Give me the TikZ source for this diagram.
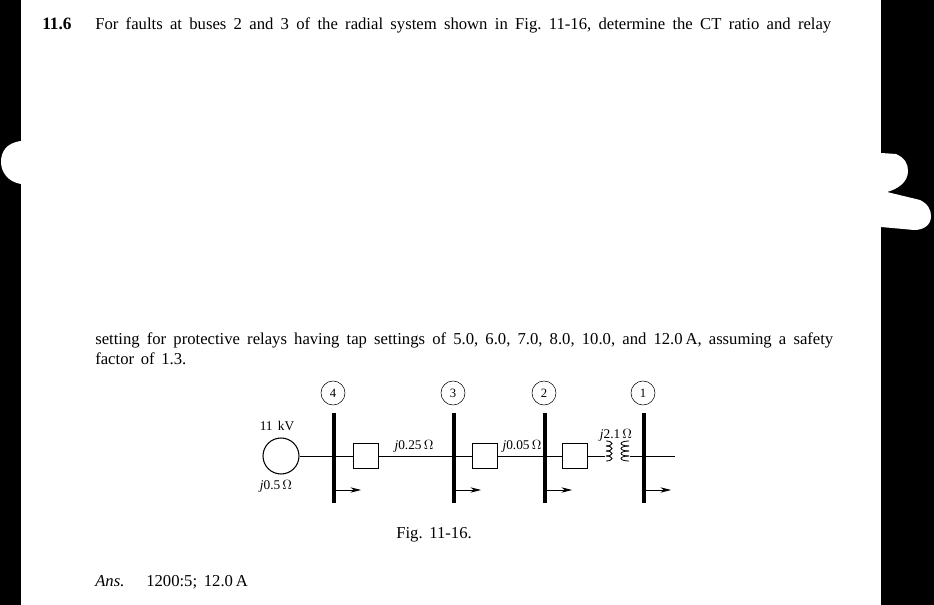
\documentclass[tikz,border=0pt]{standalone}
\usepackage{fontspec}
\setmainfont[WordSpace=1.6]{Liberation Serif}
\usetikzlibrary{arrows.meta}
\newcommand{\ohm}{\,$\Omega$}
\frenchspacing
\begin{document}
\begin{tikzpicture}[x=0.75pt,y=-0.75pt]
        \tikzset{busbar/.style={rectangle,fill=black,inner sep=0pt,
                    minimum width=3.2pt,minimum height=67pt},
                 breaker/.style={rectangle,draw,fill=white,thick,inner sep=0pt,
                    minimum width=19pt,minimum height=18.5pt},
                 busnum/.style={circle,draw,inner sep=0pt,minimum size=18pt,font=\fontsize{9.5}{10}\selectfont},
                 gen/.style={circle,draw,thick,inner sep=0pt,minimum size=27pt},
                 small/.style={inner sep=0pt,font=\fontsize{10}{11}\selectfont},
                 body/.style={anchor=base west,inner sep=0pt,font=\fontsize{12.5}{14}\selectfont},
                 load/.style={-{Stealth[length=8pt,width=4pt]},semithick},
                 wire/.style={semithick}}
        \useasboundingbox (0,0) rectangle (934,605);
        \fill[black] (0,0) rectangle (21,605);
        \fill[black] (881,0) rectangle (934,605);
        \fill[white] (21,141) .. controls (6,143) and (1,152) .. (1,162) .. controls (1,172) and (8,182) .. (21,184) -- cycle;
        \fill[white] (881,153) -- (896,154) .. controls (905,158) and (908,164) .. (908,171) .. controls (908,182) and (898,189) .. (887,192) -- (920,200) .. controls (928,204) and (931,210) .. (931,216) .. controls (931,225) and (924,230) .. (914,230) -- (881,227) -- cycle;

        \node[body,font=\fontsize{13}{14}\selectfont\bfseries] (num) at (42,30) {11.6};
        \node[body] (line1) at (95,30) {\makebox[552pt][s]{For faults at buses 2 and 3 of the radial system shown in Fig. 11-16, determine the CT ratio and relay}};
        \node[body] (line2) at (95,345) {\makebox[553.5pt][s]{setting for protective relays having tap settings of 5.0, 6.0, 7.0, 8.0, 10.0, and 12.0\,A, assuming a safety}};
        \node[body] (line3) at (95,365) {factor of 1.3.};
        \node[body] (fig) at (396,538) {Fig. 11-16.};
        \node[body] (ans) at (95,586) {\textit{Ans.}};
        \node[body] (res) at (146,586) {1200:5; 12.0\,A};

        \foreach \n/\x in {4/334,3/454,2/545,1/644} {
            \node[busnum] (num\n) at (\x-1,393) {\n};
            \node[busbar] (bus\n) at (\x,458) {};
            \coordinate (load\n) at (\x+27,490);
            \draw[load] (bus\n.east |- load\n) -- (load\n);
        }

        \node[gen] (source) at (281,456) {};
        \node[breaker] (cb4) at (366,456) {};
        \node[breaker] (cb3) at (485,456) {};
        \node[breaker] (cb2) at (575,456) {};
        \coordinate (tp) at (605,456);
        \coordinate (ts) at (630,456);
        \coordinate (tail) at (675,456);

        \draw[wire] (source) -- (cb4);
        \draw[wire] (cb4) -- (cb3);
        \draw[wire] (cb3) -- (cb2);
        \draw[wire] (cb2) -- (tp);
        \draw[wire] (ts) -- (tail);

        \foreach \y in {446,451,456,461} {
            \draw[wire] (606,\y) arc[start angle=90,end angle=-90,x radius=6,y radius=2.5];
            \draw[wire] (629,\y) arc[start angle=90,end angle=270,x radius=8,y radius=2.5];
        }

        \node[small] (v) at (277,426) {11 kV};
        \node[small] (xg) at (276,486) {\textit{j}0.5\ohm};
        \node[small] (x43) at (414,446) {\textit{j}0.25\ohm};
        \node[small] (x32) at (522,446) {\textit{j}0.05\ohm};
        \node[small] (xt) at (616,435) {\textit{j}2.1\ohm};
    \end{tikzpicture}
\end{document}
